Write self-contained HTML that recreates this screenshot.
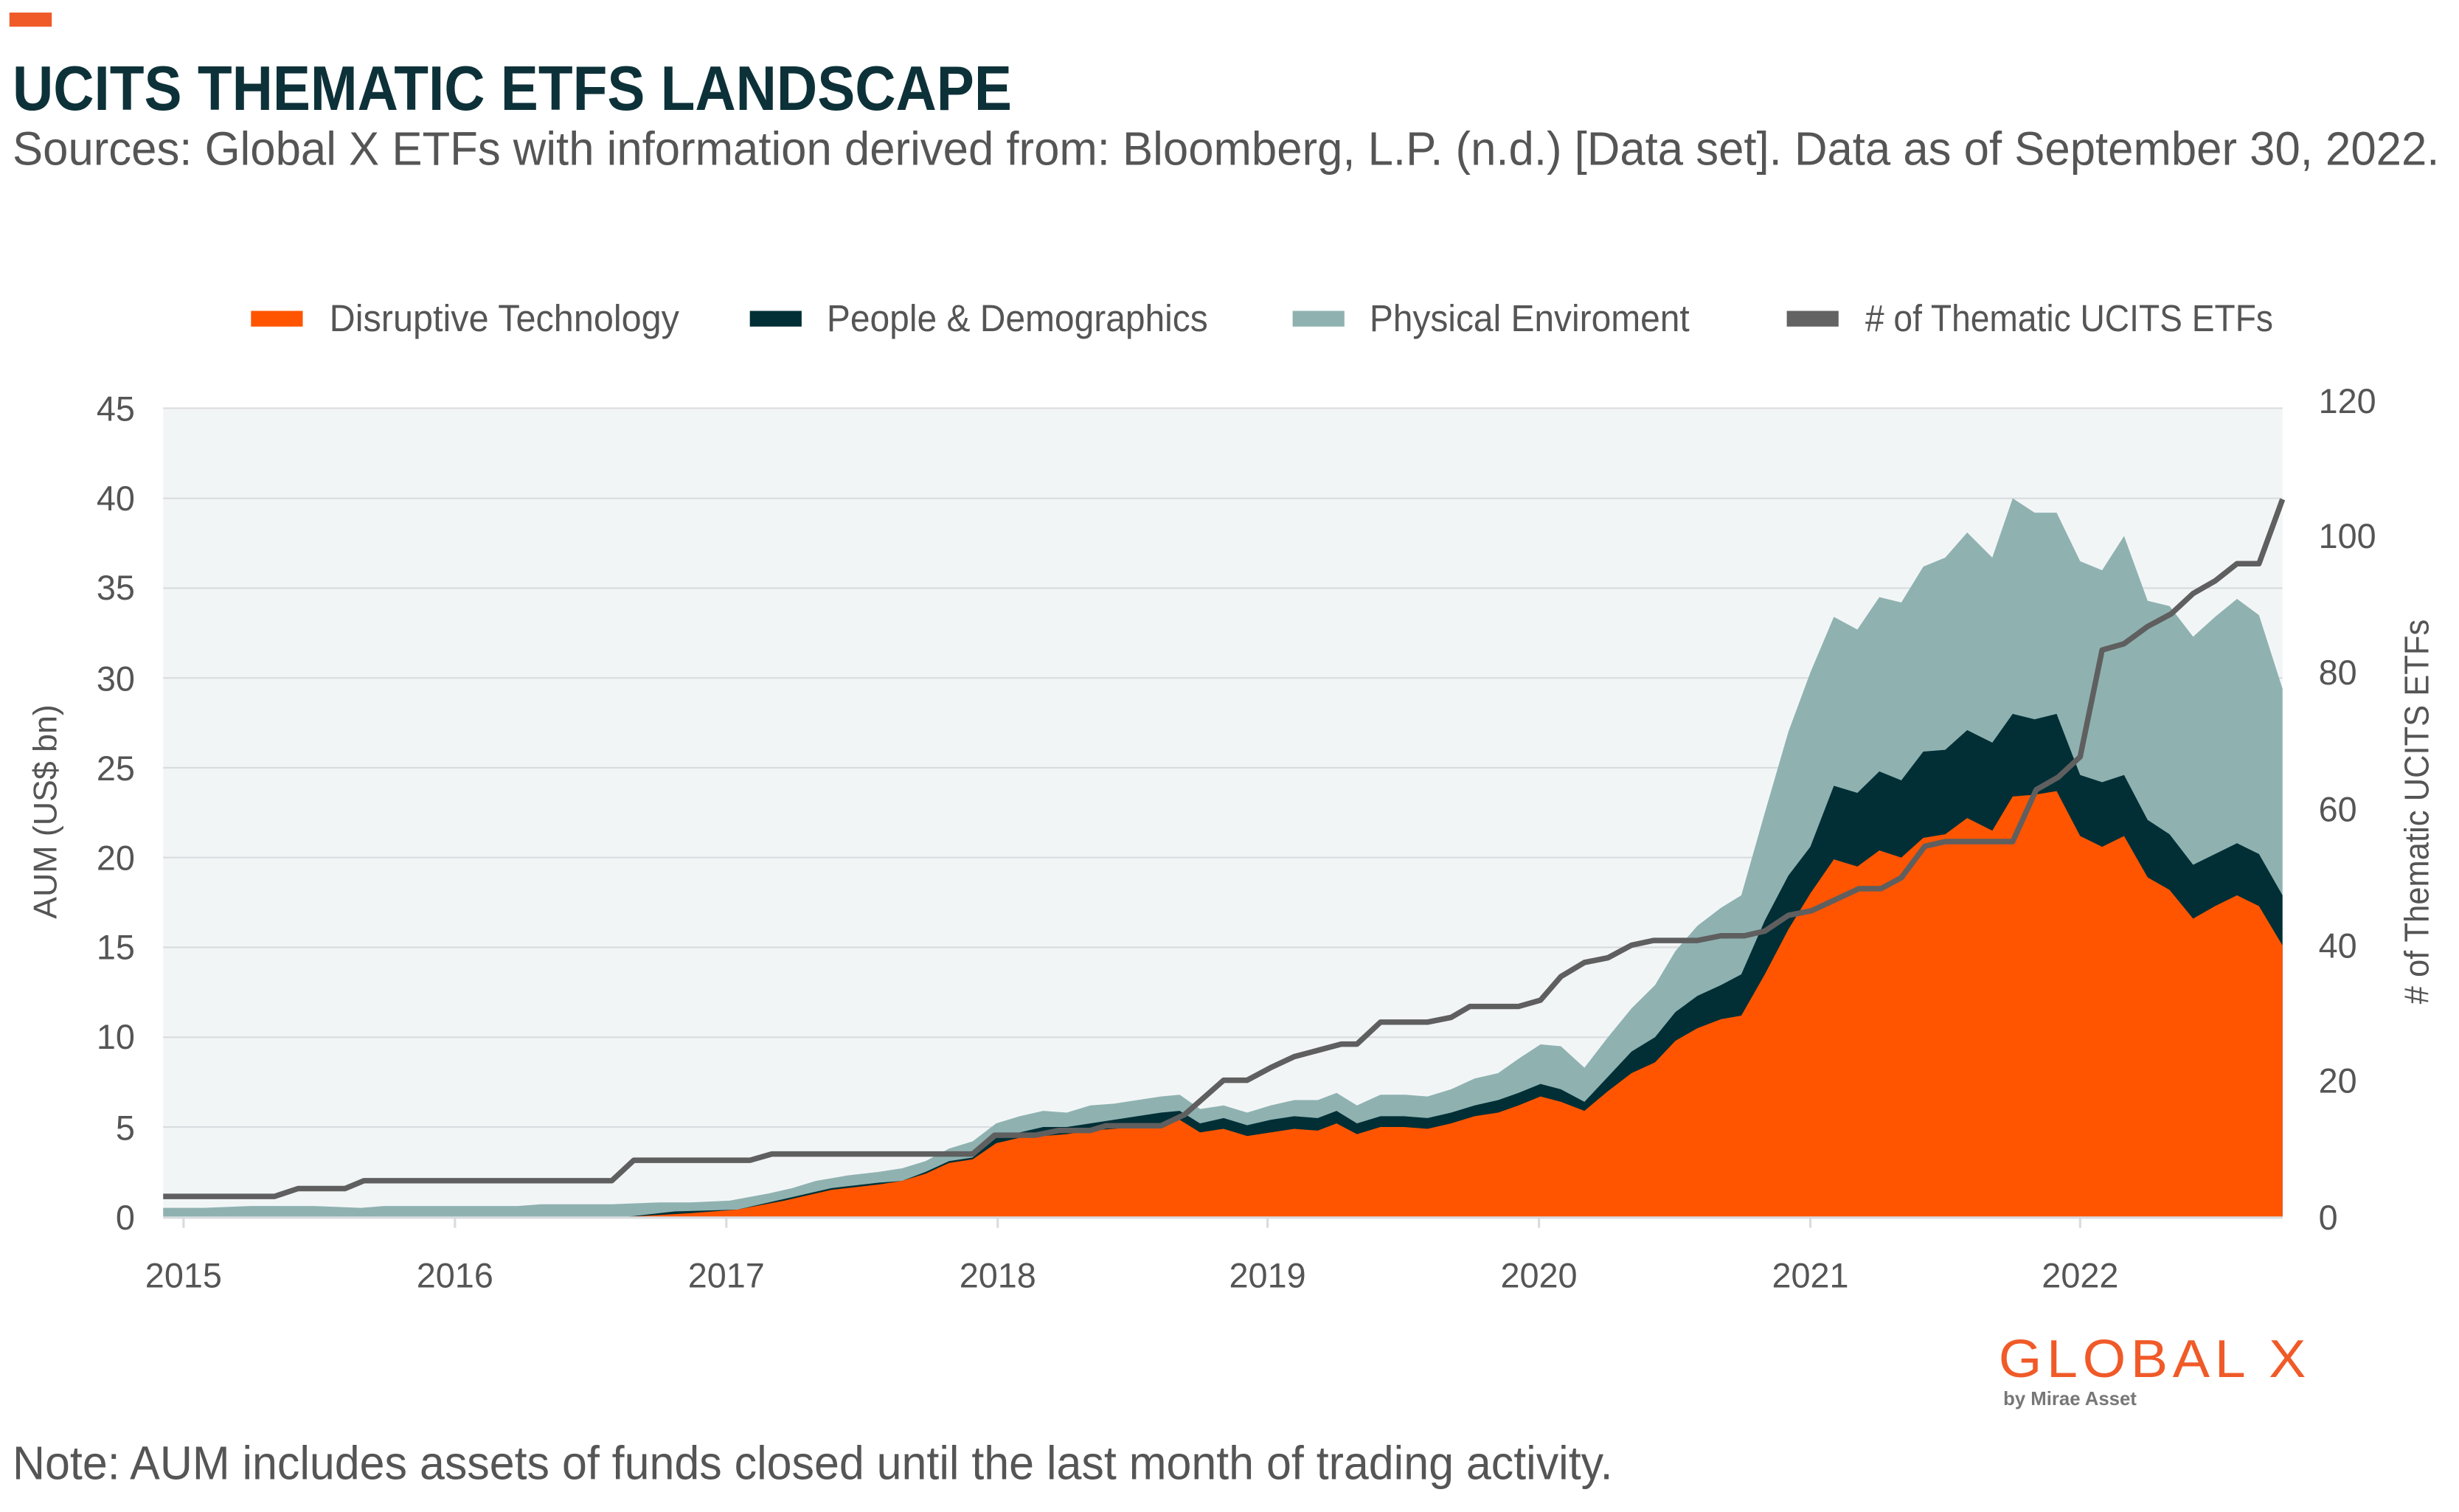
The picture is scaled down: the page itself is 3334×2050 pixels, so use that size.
<!DOCTYPE html>
<html><head><meta charset="utf-8"><style>html,body{margin:0;padding:0;background:#fff}svg{display:block}</style></head>
<body>
<svg width="3334" height="2050" viewBox="0 0 1567.5 963" preserveAspectRatio="none" xmlns="http://www.w3.org/2000/svg" font-family="Liberation Sans, sans-serif">
<rect x="6" y="8" width="27" height="9" fill="#f05a28"/>
<text x="8" y="70" font-size="40" font-weight="bold" fill="#0d3138" textLength="637" lengthAdjust="spacingAndGlyphs">UCITS THEMATIC ETFS LANDSCAPE</text>
<text x="8" y="105" font-size="30" fill="#555" textLength="1547" lengthAdjust="spacingAndGlyphs">Sources: Global X ETFs with information derived from: Bloomberg, L.P. (n.d.) [Data set]. Data as of September 30, 2022.</text>
<g font-size="24" fill="#555">
<rect x="160" y="198" width="33" height="10" fill="#ff5500"/><text x="210" y="211" textLength="223" lengthAdjust="spacingAndGlyphs">Disruptive Technology</text>
<rect x="478" y="198" width="33" height="10" fill="#022f36"/><text x="527" y="211" textLength="243" lengthAdjust="spacingAndGlyphs">People &amp; Demographics</text>
<rect x="824" y="198" width="33" height="10" fill="#8fb2b1"/><text x="873" y="211" textLength="204" lengthAdjust="spacingAndGlyphs">Physical Enviroment</text>
<rect x="1139" y="198" width="33" height="10" fill="#636363"/><text x="1189" y="211" textLength="260" lengthAdjust="spacingAndGlyphs"># of Thematic UCITS ETFs</text>
</g>
<rect x="104" y="260" width="1351" height="515" fill="#f2f5f6"/>
<g stroke="#d9dcdf" stroke-width="1">
<line x1="104" x2="1455" y1="260" y2="260"/><line x1="104" x2="1455" y1="317.4" y2="317.4"/><line x1="104" x2="1455" y1="374.6" y2="374.6"/><line x1="104" x2="1455" y1="431.8" y2="431.8"/><line x1="104" x2="1455" y1="489" y2="489"/><line x1="104" x2="1455" y1="546.2" y2="546.2"/><line x1="104" x2="1455" y1="603.4" y2="603.4"/><line x1="104" x2="1455" y1="660.6" y2="660.6"/><line x1="104" x2="1455" y1="717.8" y2="717.8"/>
</g>
<g transform="translate(0,775) scale(1,-11.44)">
<polygon fill="#8fb2b1" points="104,0 104,0.5 130,0.5 160,0.6 200,0.6 230,0.5 245,0.6 330,0.6 345,0.7 390,0.7 420,0.8 440,0.8 465,0.9 490,1.3 505,1.6 520,2.0 540,2.3 560,2.5 575,2.7 590,3.1 605,3.8 620,4.2 635,5.2 650,5.6 665,5.9 680,5.8 695,6.2 710,6.3 725,6.5 740,6.7 752,6.8 765,6.0 780,6.2 795,5.8 810,6.2 825,6.5 840,6.5 852,6.9 865,6.2 880,6.8 895,6.8 910,6.7 925,7.1 940,7.7 955,8.0 968,8.8 982,9.6 995,9.5 1010,8.3 1025,10.0 1040,11.6 1055,12.9 1068,14.8 1082,16.2 1097,17.2 1110,17.9 1125,22.5 1140,27.0 1154,30.3 1169,33.4 1184,32.7 1198,34.5 1212,34.2 1226,36.2 1240,36.7 1254,38.1 1270,36.7 1283,40.0 1297,39.2 1311,39.2 1326,36.5 1340,36.0 1354,37.9 1369,34.3 1383,34.0 1398,32.3 1412,33.4 1426,34.4 1440,33.5 1455,29.4 1455,0"/>
<polygon fill="#022f36" points="104,0 400,0 430,0.3 470,0.4 500,1.0 530,1.6 560,1.9 575,2.0 590,2.5 605,3.1 620,3.3 635,4.4 650,4.7 665,5.0 680,5.0 695,5.2 710,5.4 725,5.6 740,5.8 752,5.9 765,5.2 780,5.5 795,5.1 810,5.4 825,5.6 840,5.5 852,5.9 865,5.2 880,5.6 895,5.6 910,5.5 925,5.8 940,6.2 955,6.5 968,6.9 982,7.4 995,7.1 1010,6.4 1025,7.8 1040,9.2 1055,10.0 1068,11.4 1082,12.3 1097,12.9 1110,13.5 1125,16.5 1140,19.0 1154,20.6 1169,24.0 1184,23.6 1198,24.8 1212,24.3 1226,25.9 1240,26.0 1254,27.1 1270,26.4 1283,28.0 1297,27.7 1311,28.0 1326,24.6 1340,24.2 1354,24.6 1369,22.1 1383,21.3 1398,19.6 1412,20.2 1426,20.8 1440,20.2 1455,17.9 1455,0"/>
<polygon fill="#ff5500" points="104,0 400,0 440,0.2 470,0.4 500,0.9 530,1.5 560,1.8 575,2.0 590,2.4 605,3.0 620,3.2 635,4.1 650,4.4 665,4.5 680,4.6 695,4.8 710,4.9 725,5.0 740,5.2 752,5.4 765,4.7 780,4.9 795,4.5 810,4.7 825,4.9 840,4.8 852,5.2 865,4.6 880,5.0 895,5.0 910,4.9 925,5.2 940,5.6 955,5.8 968,6.2 982,6.7 995,6.4 1010,5.9 1025,7.0 1040,8.0 1055,8.6 1068,9.8 1082,10.5 1097,11.0 1110,11.2 1125,13.5 1140,16.0 1154,18.0 1169,19.9 1184,19.5 1198,20.4 1212,20.0 1226,21.1 1240,21.3 1254,22.2 1270,21.5 1283,23.4 1297,23.5 1311,23.7 1326,21.2 1340,20.6 1354,21.2 1369,18.9 1383,18.2 1398,16.6 1412,17.3 1426,17.9 1440,17.3 1455,15.1 1455,0"/>
</g>
<line x1="104" x2="1455" y1="775.5" y2="775.5" stroke="#d9dcdf" stroke-width="1.5"/>
<g stroke="#d9dcdf" stroke-width="1.5"><line x1="117" x2="117" y1="775" y2="782"/><line x1="290" x2="290" y1="775" y2="782"/><line x1="463" x2="463" y1="775" y2="782"/><line x1="636" x2="636" y1="775" y2="782"/><line x1="808" x2="808" y1="775" y2="782"/><line x1="981" x2="981" y1="775" y2="782"/><line x1="1154" x2="1154" y1="775" y2="782"/><line x1="1326" x2="1326" y1="775" y2="782"/></g>
<polyline fill="none" stroke="#5f5f5f" stroke-width="3.5" stroke-linejoin="round" points="104,762 175,762 190,757 220,757 232,752 390,752 404,739 478,739 492,735 620,735 634,723 660,723 675,720 695,720 705,717 740,717 755,710 780,688 795,688 810,680 825,673 840,669 855,665 865,665 880,651 910,651 925,648 937,641 968,641 982,637 995,622 1010,613 1025,610 1040,602 1054,599 1082,599 1097,596 1112,596 1125,593 1140,583 1155,580 1170,573 1185,566 1199,566 1212,559 1227,539 1240,536 1283,536 1298,503 1312,495 1326,482 1340,414 1354,410 1369,399 1384,391 1398,378 1412,370 1426,359 1440,359 1455,318"/>
<g font-size="22" fill="#555" text-anchor="end">
<text x="86" y="268">45</text><text x="86" y="325">40</text><text x="86" y="382">35</text><text x="86" y="440">30</text><text x="86" y="497">25</text><text x="86" y="554">20</text><text x="86" y="611">15</text><text x="86" y="668">10</text><text x="86" y="726">5</text><text x="86" y="783">0</text>
</g>
<g font-size="22" fill="#555">
<text x="1478" y="263">120</text><text x="1478" y="349">100</text><text x="1478" y="436">80</text><text x="1478" y="523">60</text><text x="1478" y="610">40</text><text x="1478" y="696">20</text><text x="1478" y="783">0</text>
</g>
<g font-size="22" fill="#555" text-anchor="middle">
<text x="117" y="820">2015</text><text x="290" y="820">2016</text><text x="463" y="820">2017</text><text x="636" y="820">2018</text><text x="808" y="820">2019</text><text x="981" y="820">2020</text><text x="1154" y="820">2021</text><text x="1326" y="820">2022</text>
</g>
<text transform="translate(36,517) rotate(-90)" font-size="21" fill="#555" text-anchor="middle">AUM (US$ bn)</text>
<text transform="translate(1548,517) rotate(-90)" font-size="22" fill="#555" text-anchor="middle" textLength="245" lengthAdjust="spacingAndGlyphs"># of Thematic UCITS ETFs</text>
<text x="1274" y="877" font-size="34" fill="#f05a28" letter-spacing="3" textLength="199" lengthAdjust="spacingAndGlyphs">GLOBAL X</text>
<text x="1277" y="895" font-size="12" font-weight="bold" fill="#777" textLength="85" lengthAdjust="spacingAndGlyphs">by Mirae Asset</text>
<text x="8" y="942" font-size="30" fill="#555" textLength="1020" lengthAdjust="spacingAndGlyphs">Note: AUM includes assets of funds closed until the last month of trading activity.</text>
</svg>
</body></html>
